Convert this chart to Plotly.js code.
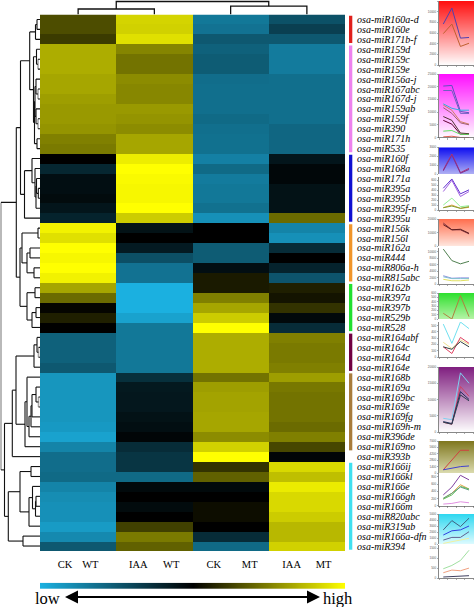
<!DOCTYPE html>
<html><head><meta charset="utf-8">
<script src="https://cdn.plot.ly/plotly-3.0.1.min.js"></script>
<style>html,body{margin:0;padding:0;background:#fff}</style></head>
<body><div id="chart" style="width:474px;height:607px"></div>
<script>
const W=474,H=607;
const rowLabels=["osa-miR160a-d","osa-miR160e","osa-miR171b-f","osa-miR159d","osa-miR159c","osa-miR159e","osa-miR156a-j","osa-miR167abc","osa-miR167d-j","osa-miR159ab","osa-miR159f","osa-miR390","osa-miR171h","osa-miR535","osa-miR160f","osa-miR168a","osa-miR171a","osa-miR395a","osa-miR395b","osa-miR395f-n","osa-miR395u","osa-miR156k","osa-miR156l","osa-miR162a","osa-miR444","osa-miR806a-h","osa-miR815abc","osa-miR162b","osa-miR397a","osa-miR397b","osa-miR529b","osa-miR528","osa-miR164abf","osa-miR164c","osa-miR164d","osa-miR164e","osa-miR168b","osa-miR169a","osa-miR169bc","osa-miR169e","osa-miR169fg","osa-miR169h-m","osa-miR396de","osa-miR169no","osa-miR393b","osa-miR166ij","osa-miR166kl","osa-miR166e","osa-miR166gh","osa-miR166m","osa-miR820abc","osa-miR319ab","osa-miR166a-dfn","osa-miR394"];
const ckWT=[.3,.3,.23,.68,.68,.68,.65,.65,.62,.6,.6,.58,.5,.48,0,-.22,-.08,-.08,-.06,-.12,-.2,.95,.88,1,.97,1,.95,.65,.42,.02,.12,0,-.55,-.55,-.55,-.5,-.85,-.85,-.85,-.85,-.85,-.87,-.92,-.75,-.62,-.62,-.6,-.75,-.8,-.82,-.82,-.88,-.78,-.5];
const iaaWT=[.83,.82,.88,.52,.45,.45,.55,.53,.53,.6,.58,.55,.65,.65,.93,1,.98,.97,.97,1,.8,-.1,0,-.15,-.45,-.65,-.65,-1,-1,-1,-.92,-.68,-.68,-.68,-.68,-.68,-.27,-.14,-.13,-.13,-.1,-.08,-.03,-.25,-.3,-.3,-.6,-.05,0,-.06,0,.25,.48,.38];
const ckMT=[-.68,-.65,-.5,-.55,-.52,-.52,-.62,-.63,-.63,-.63,-.6,-.63,-.64,-.64,-.73,-.6,-.7,-.68,-.68,-.64,-.82,0,0,-.52,-.52,-.08,.1,.1,.5,.65,.8,1,.68,.68,.68,.68,.45,.62,.64,.64,.65,.65,.55,.82,1,.2,.38,-.05,0,.05,.05,0,-.25,-.6];
const iaaMT=[-.46,-.36,-.5,-.7,-.7,-.7,-.63,-.63,-.63,-.63,-.63,-.58,-.58,-.58,-.12,-.04,-.04,-.1,-.1,-.1,.42,-.75,-.82,-.25,0,-.2,-.48,.12,.08,.2,-.05,-.25,.5,.48,.48,.5,.62,.47,.45,.45,.45,.42,.5,.28,-.03,.85,.75,.92,.85,.85,.8,.72,.72,.82];
const colTickVals=[-.17,.16,.79,1.22,1.78,2.25,2.8,3.22];
const colTickText=["CK","WT","IAA","WT","CK","MT","IAA","MT"];
const heatScale=[[0,"#1bb0e0"],[.5,"#000000"],[1,"#ffff00"]];
const groupStart=[0,3,14,21,27,32,36,45];
const groupEnd=[2,13,20,26,31,35,43,53];
const groupColor=["#e0201c","#ee82ee","#1010d0","#f0952a","#22e030","#700040","#a87c3c","#40e0f0"];
// left tree: [height, childA, childB]; a number child is a row, "n#" is an earlier node
const treeNodes=[
[37,0,1],[35.5,"n0",2],[38,4,5],[36.5,3,"n2"],[38,7,8],[36,6,"n4"],[38,10,11],[36,9,"n6"],[37,12,13],[35,"n5","n7"],[34.5,"n9","n8"],[33.5,"n3","n10"],[29.7,"n1","n11"],
[38.3,17,18],[36.5,16,"n13"],[36,"n14",19],[35,15,"n15"],[32,14,"n16"],[24.5,"n17",20],[20.5,"n12","n18"],
[38,21,22],[30,23,24],[34,25,26],[27,"n21","n22"],[22,"n20","n23"],[35,27,28],[36,29,30],[32,"n26",31],[27,"n25","n27"],[20,"n24","n28"],[16.3,"n19","n29"],
[38.5,33,34],[37,32,"n31"],[34,"n32",35],[38.5,38,39],[36,37,"n34"],[32,"n35",40],[31,"n36",41],[29,"n37",42],[27,36,"n38"],[25,"n39",43],[16,"n33","n40"],[12.3,"n41",44],
[31,45,46],[36,48,49],[35.5,50,"n44"],[32.5,47,"n45"],[29,"n46",51],[20,"n43","n47"],[23,52,53],[8.3,"n48","n49"],[4.5,"n42","n50"],[1,"n30","n51"]];
const greyNodes=[2,4,6,31,34,52];
// top tree: [height, colA, colB]
const colTree=[[5.5,0,1],[8.3,2,3],[13,"n0","n1"]];
const lineX=[0,1,2,3];
const panels=[
{top:1,bot:65,grad:["#ffffff","#ff1010"],ticks:7,lab:12000,base:1,topTick:100,lines:[["#5040b0",[64,89,42,43]],["#c06030",[49,64,29,34]]]},
{top:74,bot:137.5,grad:["#ffffff","#ff10ff"],ticks:6,lab:25000,base:1,topTick:100,lines:[["#6050c0",[81,82,41,39]],["#7060c0",[74,74,38,38]],["#30b0e0",[53,46,43,43]],["#d08060",[51,43,25,21]],["#a06070",[47,38,23,20]],["#503030",[33,27,7,6]],["#600030",[27,21,5,5]],["#60e060",[10,11,5,5]],["#e06050",[1,2,0,0]]]},
{top:147.3,bot:174,grad:["#b4b4f4","#1010f0"],ticks:4,lab:3000,base:0,topTick:100,lines:[["#b03070",[15,75,5,21]],["#803090",[12,71,3,17]]]},
{top:177,bot:210,grad:null,ticks:7,lab:600,base:1,topTick:90,lines:[["#6030d0",[66,94,49,61]],["#a060e0",[56,90,41,56]],["#90f090",[15,36,10,13]],["#e0a040",[7,15,5,8]],["#80a030",[7,12,5,10]]]},
{top:219,bot:246,grad:["#ffe8e0","#ff7050"],ticks:3,lab:20000,base:0,topTick:100,lines:[["#803040",[85,60,60,45]],["#602020",[79,60,62,47]]]},
{top:248,bot:284,grad:null,ticks:6,lab:10000,base:1,topTick:90,lines:[["#508050",[97,65,56,63]],["#9090e0",[23,16,17,17]],["#80c0d0",[20,15,15,15]],["#e0e060",[13,9,9,11]]]},
{top:293,bot:319,grad:["#b8f4a8","#30e030"],ticks:7,lab:600,base:0,topTick:100,lines:[["#b08040",[22,0,90,9]]]},
{top:322,bot:357,grad:null,ticks:6,lab:500,base:1,topTick:90,lines:[["#f0e090",[42,24,49,36]],["#70e0f0",[94,39,100,81]],["#e04060",[29,10,56,39]],["#304040",[29,22,44,29]]]},
{top:367,bot:432,grad:["#ffffff","#802080"],ticks:5,lab:20000,base:1,topTick:100,lines:[["#80d0f0",[21,19,91,75]],["#d04060",[15,12,70,55]],["#203060",[16,13,62,50]],["#304050",[15,12,57,48]]]},
{top:441,bot:473,grad:["#dcdcb0","#807820"],ticks:6,lab:7000,base:0,topTick:100,lines:[["#d04040",[10,41,71,71]],["#4040d0",[10,15,20,22]]]},
{top:473,bot:505.7,grad:null,ticks:5,lab:800,base:1,topTick:88,lines:[["#8040a0",[33,57,93,79]],["#e0a040",[21,38,64,51]],["#60c060",[20,33,59,51]],["#60a080",[23,38,57,48]],["#e090e0",[5,7,12,9]]]},
{top:514,bot:544,grad:["#e0fbff","#30d8f0"],ticks:6,lab:5000,base:0,topTick:100,lines:[["#406080",[47,78,58,86]],["#3040e0",[30,44,47,60]],["#606090",[13,22,22,41]],["#f0f0a0",[2,8,13,19]]]},
{top:545,bot:578,grad:null,ticks:4,lab:1500,base:1,topTick:90,lines:[["#a0e0a0",[28,38,53,84]],["#f0a080",[16,24,22,30]],["#404060",[3,4,6,7]]]}
];

const px=(a)=>a/W, py=(b)=>1-b/H;
const HL=40,HR=345,HT=14.5,HB=551;
const traces=[],layout={width:W,height:H,margin:{l:0,r:0,t:0,b:0},paper_bgcolor:"#fff",plot_bgcolor:"rgba(0,0,0,0)",showlegend:false,shapes:[],annotations:[],font:{family:"Liberation Serif",color:"#111"}};
// main heat map
const zRows=rowLabels.map((_,i)=>[ckWT[i],iaaWT[i],ckMT[i],iaaMT[i]]);
traces.push({type:"heatmap",z:zRows,x:lineX,y:rowLabels.map((_,i)=>i),colorscale:heatScale,zmin:-1,zmax:1,showscale:false,xaxis:"x",yaxis:"y"});
layout.xaxis={domain:[px(HL),px(HR)],range:[-.5,3.5],tickvals:colTickVals,ticktext:colTickText,ticks:"outside",ticklen:3,tickcolor:"rgba(0,0,0,0)",tickfont:{family:"Liberation Serif",size:10.5,color:"#000"},showgrid:false,zeroline:false,showline:false,anchor:"y",fixedrange:true,tickangle:0};
layout.yaxis={domain:[py(HB),py(HT)],range:[53.5,-.5],tickvals:rowLabels.map((_,i)=>i),ticktext:rowLabels,side:"right",ticks:"outside",ticklen:9,tickcolor:"rgba(0,0,0,0)",tickfont:{family:"Liberation Serif",size:10,style:"italic",color:"#000"},showgrid:false,zeroline:false,showline:false,anchor:"x",fixedrange:true,automargin:false};
// group bars
groupStart.forEach((s,i)=>layout.shapes.push({type:"rect",xref:"paper",yref:"y",x0:px(349),x1:px(352.3),y0:s-.38,y1:groupEnd[i]+.37,fillcolor:groupColor[i],line:{width:0},layer:"above"}));
// dendrogram helper
function buildTree(nodes,coord){
  const mid=[],list=[];
  const pos=c=>typeof c==="number"?[c,coord]:[mid[+c.slice(1)],nodes[+c.slice(1)][0]];
  nodes.forEach((n,i)=>{
    const [pa,ha]=pos(n[1]),[pb,hb]=pos(n[2]);
    mid[i]=(pa+pb)/2;
    list.push({i,pa,ha,pb,hb,h:n[0]});
  });
  return list;
}
// left
const lb=[[],[]],lg=[[],[]];
buildTree(treeNodes,40).forEach(s=>{
  lb[0].push(s.ha,s.h,null,s.hb,s.h,null);lb[1].push(s.pa,s.pa,null,s.pb,s.pb,null);
  const t=greyNodes.includes(s.i)?lg:lb;
  t[0].push(s.h,s.h,null);t[1].push(s.pa,s.pb,null);
});
traces.push({type:"scatter",mode:"lines",x:lg[0],y:lg[1],line:{color:"#a8a8a8",width:1.6},xaxis:"x2",yaxis:"y2",hoverinfo:"skip"});
traces.push({type:"scatter",mode:"lines",x:lb[0],y:lb[1],line:{color:"#111",width:1.1},xaxis:"x2",yaxis:"y2",hoverinfo:"skip"});
const hiddenAxis={showgrid:false,zeroline:false,showline:false,showticklabels:false,ticks:"",fixedrange:true};
layout.xaxis2={...hiddenAxis,domain:[0,px(HL)],range:[0,40],anchor:"y2"};
layout.yaxis2={...hiddenAxis,domain:[py(HB),py(HT)],range:[53.5,-.5],anchor:"x2"};
// top
const tb=[[],[]];
buildTree(colTree,0).forEach(s=>{tb[0].push(s.pa,s.pa,s.pb,s.pb,null);tb[1].push(s.ha,s.h,s.h,s.hb,null);});
traces.push({type:"scatter",mode:"lines",x:tb[0],y:tb[1],line:{color:"#111",width:1.3},xaxis:"x3",yaxis:"y3",hoverinfo:"skip"});
layout.xaxis3={...hiddenAxis,domain:[px(HL),px(HR)],range:[-.5,3.5],anchor:"y3"};
layout.yaxis3={...hiddenAxis,domain:[py(HT),1],range:[0,14.5],anchor:"x3"};
// colour bar
const barVals=[];for(let k=0;k<=40;k++)barVals.push(-1+k/20);
traces.push({type:"heatmap",z:[barVals],x:barVals,y:[0],colorscale:heatScale,zmin:-1,zmax:1,showscale:false,zsmooth:"best",xaxis:"x4",yaxis:"y4"});
layout.xaxis4={...hiddenAxis,domain:[px(HL),px(HR)],range:[-1,1],anchor:"y4"};
layout.yaxis4={...hiddenAxis,domain:[py(589),py(582.7)],range:[-.5,.5],anchor:"x4"};
// arrows
const arrowY=py(597);
[[320,-140],[65,155]].forEach(a=>layout.annotations.push({xref:"paper",yref:"paper",x:px(a[0]),y:arrowY,ax:a[1],ay:0,axref:"pixel",ayref:"pixel",text:"",showarrow:true,arrowhead:2,arrowsize:1.3,arrowwidth:2,arrowcolor:"#000",standoff:0,startstandoff:0}));
[["low",47],["high",338]].forEach(t=>layout.annotations.push({xref:"paper",yref:"paper",x:px(t[1]),y:py(598),text:t[0],showarrow:false,xanchor:"center",yanchor:"middle",font:{family:"Liberation Serif",size:16.5,color:"#000"}}));
// small line panels
panels.forEach((p,i)=>{
  const n=i+5,xn="x"+n,yn="y"+n;
  if(p.grad)traces.push({type:"heatmap",z:[[0,0,0,0],[1,1,1,1]],x:[-.5,1,2,3.58],y:[0,100],colorscale:[[0,p.grad[0]],[1,p.grad[1]]],zmin:0,zmax:1,showscale:false,zsmooth:"best",xaxis:xn,yaxis:yn,hoverinfo:"skip"});
  p.lines.forEach(l=>traces.push({type:"scatter",mode:"lines",x:lineX,y:l[1],line:{color:l[0],width:1},xaxis:xn,yaxis:yn,hoverinfo:"skip"}));
  const tv=[],tt=[];for(let k=0;k<p.ticks;k++){tv.push(p.topTick*k/(p.ticks-1));tt.push(String(Math.round(p.lab*k/(p.ticks-1))));}
  const xa={domain:[px(439),1],range:[-.5,3.58],anchor:yn,showgrid:false,zeroline:false,showticklabels:false,fixedrange:true};
  layout["xaxis"+n]=p.base?{...xa,showline:true,linecolor:"#555",linewidth:.7,tickvals:[-.5,.5,1.5,2.5,3.5],ticks:"outside",ticklen:1.5,tickwidth:.5,tickcolor:"#555"}:{...xa,showline:false,ticks:""};
  layout["yaxis"+n]={domain:[py(p.bot),py(p.top)],range:[0,100],anchor:xn,showgrid:false,zeroline:false,showline:true,linecolor:"#555",linewidth:.7,tickvals:tv,ticktext:tt,ticks:"outside",ticklen:1.5,tickwidth:.5,tickcolor:"#555",tickfont:{family:"Liberation Sans",size:3,color:"#555"},fixedrange:true};
});
Plotly.newPlot("chart",traces,layout,{staticPlot:true,displayModeBar:false});
</script></body></html>
